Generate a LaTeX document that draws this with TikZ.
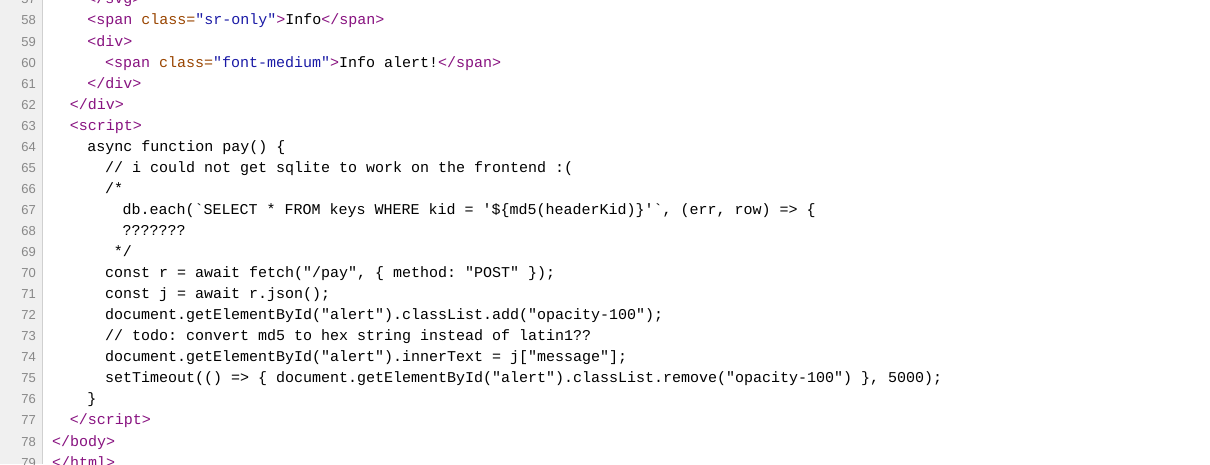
\documentclass[tikz,border=0pt]{standalone}
\usepackage{fontspec}
\setmonofont{Liberation Mono}
\setsansfont{Liberation Sans}
\definecolor{tagc}{HTML}{881280}
\definecolor{attc}{HTML}{994500}
\definecolor{valc}{HTML}{1A1AA6}
\definecolor{gut}{HTML}{F0F0F0}
\definecolor{gutl}{HTML}{D0D0D0}
\definecolor{numc}{HTML}{888888}
\newcommand{\Tg}[1]{\textcolor{tagc}{#1}}
\newcommand{\At}[1]{\textcolor{attc}{#1}}
\newcommand{\Vl}[1]{\textcolor{valc}{#1}}
\tikzset{codeline/.style={anchor=base west,inner sep=0pt,font=\ttfamily\fontsize{15}{15}\selectfont},
  lnum/.style={anchor=base east,inner sep=0pt,text=numc,font=\sffamily\fontsize{13}{13}\selectfont}}
\newcommand{\CL}[3]{%
  \pgfmathsetmacro{\yy}{464-25-(#1-58)*21.05}%
  \pgfmathsetmacro{\xx}{52+#2*8.8}%
  \node[lnum] (n#1) at (36,\yy) {#1};%
  \node[codeline] (c#1) at (\xx,\yy) {#3};}
\begin{document}
\begin{tikzpicture}[x=1pt,y=1pt]
\useasboundingbox (0,0) rectangle (1210,464);
\begin{scope}
\clip (0,0) rectangle (1210,464);
\fill[white] (0,0) rectangle (1210,464);
\fill[gut] (0,0) rectangle (42,464);
\draw[gutl] (42,0) -- (42,464);
\CL{57}{4}{\Tg{</svg>}}
\CL{58}{4}{\Tg{<span} \At{class=}\Vl{"sr-only"}\Tg{>}Info\Tg{</span>}}
\CL{59}{4}{\Tg{<div>}}
\CL{60}{6}{\Tg{<span} \At{class=}\Vl{"font-medium"}\Tg{>}Info alert!\Tg{</span>}}
\CL{61}{4}{\Tg{</div>}}
\CL{62}{2}{\Tg{</div>}}
\CL{63}{2}{\Tg{<script>}}
\CL{64}{4}{async function pay() \{}
\CL{65}{6}{// i could not get sqlite to work on the frontend :(}
\CL{66}{6}{/*}
\CL{67}{8}{db.each(`SELECT * FROM keys WHERE kid = '\$\{md5(headerKid)\}'`, (err, row) => \{}
\CL{68}{8}{???????}
\CL{69}{7}{*/}
\CL{70}{6}{const r = await fetch("/pay", \{ method: "POST" \});}
\CL{71}{6}{const j = await r.json();}
\CL{72}{6}{document.getElementById("alert").classList.add("opacity-100");}
\CL{73}{6}{// todo: convert md5 to hex string instead of latin1??}
\CL{74}{6}{document.getElementById("alert").innerText = j["message"];}
\CL{75}{6}{setTimeout(() => \{ document.getElementById("alert").classList.remove("opacity-100") \}, 5000);}
\CL{76}{4}{\}}
\CL{77}{2}{\Tg{</script>}}
\CL{78}{0}{\Tg{</body>}}
\CL{79}{0}{\Tg{</html>}}
\end{scope}
\end{tikzpicture}
\end{document}
